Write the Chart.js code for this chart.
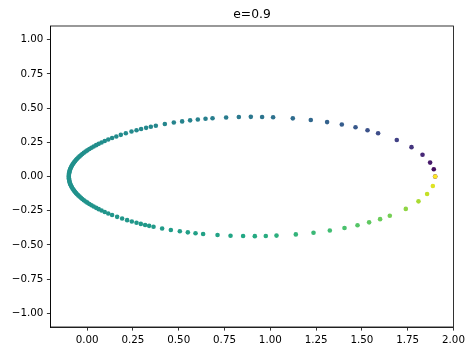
<!DOCTYPE html>
<html><head><meta charset="utf-8">
<script src="https://cdn.jsdelivr.net/npm/chart.js@4/dist/chart.umd.min.js"></script>
<style>html,body{margin:0;padding:0;background:#fff}canvas{display:block}</style>
</head><body>
<canvas id="c" width="474" height="353"></canvas>
<script>
// Orbit samples (x, y) and the time value used for colour (0..1)
const xs = [
1.9000,1.8925,1.8723,1.8308,1.7707,1.6905,1.5884,1.5306,1.4651,1.3903,1.3100,1.2210,1.1228,1.0153,0.9552,0.8936,0.8281,0.7587,0.6845,0.6463,0.6043,0.5622,0.5186,0.4733,0.4241,0.3750,0.3477,0.3220,0.2947,0.2696,0.2423,0.2112,0.1839,
0.1592,0.1362,0.1152,0.0961,0.0789,0.0632,0.0492,0.0357,0.0237,0.0122,0.0012,-0.0085,-0.0178,-0.0265,-0.0342,-0.0415,-0.0483,-0.0548,-0.0603,-0.0655,-0.0703,-0.0748,-0.0789,-0.0826,-0.0860,-0.0890,-0.0917,-0.0940,-0.0959,-0.0974,-0.0987,-0.0995,-0.1000,
-0.1000,-0.0995,-0.0987,-0.0974,-0.0959,-0.0940,-0.0917,-0.0890,-0.0860,-0.0826,-0.0789,-0.0748,-0.0703,-0.0655,-0.0603,-0.0548,-0.0483,-0.0415,-0.0342,-0.0265,-0.0178,-0.0085,0.0012,0.0122,0.0237,0.0357,0.0492,0.0632,0.0789,0.0961,0.1152,0.1362,
0.1637,0.1910,0.2183,0.2440,0.2696,0.2931,0.3166,0.3384,0.3624,0.4094,0.4569,0.5060,0.5497,0.5917,0.6332,0.7118,0.7828,0.8515,0.9154,0.9754,1.0338,1.1392,1.2358,1.3248,1.4050,1.4760,1.5393,1.5993,1.6523,1.7396,1.8089,1.8559,1.8872,1.9000
];
const ys = [
0.0000,0.0531,0.1017,0.1591,0.2144,0.2670,0.3162,0.3383,0.3596,0.3799,0.3976,0.4128,0.4250,0.4330,0.4352,0.4359,0.4348,0.4315,0.4257,0.4217,0.4164,0.4103,0.4029,0.3942,0.3834,0.3710,0.3634,0.3557,0.3470,0.3384,0.3284,0.3160,0.3043,
0.2928,0.2814,0.2702,0.2593,0.2488,0.2387,0.2291,0.2193,0.2100,0.2006,0.1911,0.1822,0.1731,0.1640,0.1555,0.1469,0.1383,0.1296,0.1216,0.1136,0.1054,0.0973,0.0891,0.0809,0.0727,0.0644,0.0561,0.0478,0.0395,0.0312,0.0224,0.0133,0.0042,
-0.0042,-0.0133,-0.0224,-0.0312,-0.0395,-0.0478,-0.0561,-0.0644,-0.0727,-0.0809,-0.0891,-0.0973,-0.1054,-0.1136,-0.1216,-0.1296,-0.1383,-0.1469,-0.1555,-0.1640,-0.1731,-0.1822,-0.1911,-0.2006,-0.2100,-0.2193,-0.2291,-0.2387,-0.2488,-0.2593,-0.2702,-0.2814,
-0.2950,-0.3074,-0.3189,-0.3290,-0.3384,-0.3465,-0.3540,-0.3607,-0.3675,-0.3798,-0.3908,-0.4006,-0.4083,-0.4147,-0.4201,-0.4281,-0.4329,-0.4354,-0.4358,-0.4347,-0.4320,-0.4233,-0.4106,-0.3946,-0.3762,-0.3563,-0.3352,-0.3116,-0.2872,-0.2368,-0.1818,-0.1280,-0.0695,0.0000
];
const ts = [
0.0000,0.0369,0.0709,0.1117,0.1523,0.1927,0.2331,0.2526,0.2726,0.2933,0.3134,0.3337,0.3539,0.3739,0.3842,0.3943,0.4043,0.4144,0.4245,0.4294,0.4346,0.4396,0.4447,0.4497,0.4549,0.4599,0.4625,0.4650,0.4675,0.4698,0.4721,0.4748,0.4770,
0.4790,0.4808,0.4824,0.4838,0.4851,0.4862,0.4872,0.4882,0.4890,0.4898,0.4906,0.4912,0.4919,0.4925,0.4930,0.4936,0.4941,0.4946,0.4950,0.4954,0.4958,0.4962,0.4965,0.4969,0.4972,0.4976,0.4979,0.4982,0.4985,0.4989,0.4992,0.4995,0.4998,
0.5002,0.5005,0.5008,0.5011,0.5015,0.5018,0.5021,0.5024,0.5028,0.5031,0.5035,0.5038,0.5042,0.5046,0.5050,0.5054,0.5059,0.5064,0.5070,0.5075,0.5081,0.5088,0.5094,0.5102,0.5110,0.5118,0.5128,0.5138,0.5149,0.5162,0.5176,0.5192,
0.5214,0.5236,0.5258,0.5280,0.5302,0.5324,0.5345,0.5366,0.5389,0.5436,0.5485,0.5539,0.5589,0.5638,0.5690,0.5792,0.5890,0.5992,0.6092,0.6192,0.6294,0.6494,0.6696,0.6902,0.7106,0.7306,0.7502,0.7709,0.7912,0.8308,0.8718,0.9105,0.9517,1.0000
];
const xTicks = [0, 0.25, 0.5, 0.75, 1.0, 1.25, 1.5, 1.75, 2.0];
const yTicks = [-1.0, -0.75, -0.5, -0.25, 0, 0.25, 0.5, 0.75, 1.0];
const titleText = 'e=0.9';

// viridis colour map stops
const VIR = ['#440154','#482475','#414487','#355f8d','#2a788e','#21918c','#22a884','#44bf70','#7ad151','#bddf26','#fde725'];
function hex(h){return [parseInt(h.slice(1,3),16),parseInt(h.slice(3,5),16),parseInt(h.slice(5,7),16)];}
function viridis(v){
  v=Math.max(0,Math.min(1,v));
  const p=v*(VIR.length-1), i=Math.min(Math.floor(p),VIR.length-2), f=p-i;
  const a=hex(VIR[i]), b=hex(VIR[i+1]);
  return 'rgb('+a.map((c,k)=>Math.round(c+(b[k]-c)*f)).join(',')+')';
}
const tmin=Math.min(...ts), tmax=Math.max(...ts);
const pts = xs.map((x,i)=>({x:x,y:ys[i]}));
const cols = ts.map(t=>viridis((t-tmin)/(tmax-tmin)));
const fmt = v => (Math.abs(v)<1e-9?0:v).toFixed(2).replace('-','\u2212');

const frame = {
  id:'frame',
  afterDatasetsDraw(chart){
    const {ctx, chartArea:a} = chart;
    ctx.save();
    ctx.strokeStyle='#000'; ctx.lineWidth=0.8;
    ctx.strokeRect(a.left, a.top, a.right-a.left, a.bottom-a.top);
    ctx.restore();
  }
};

const font = {family:'"DejaVu Sans", sans-serif', size:10.3};
new Chart(document.getElementById('c'), {
  type:'scatter',
  data:{datasets:[{data:pts, backgroundColor:cols, borderWidth:0, pointRadius:2.3, pointHoverRadius:2.3}]},
  options:{
    responsive:false, animation:false, events:[], devicePixelRatio:1,
    layout:{padding:{left:0,right:20.5,top:0,bottom:0}},
    plugins:{
      legend:{display:false}, tooltip:{enabled:false},
      title:{display:true, text:titleText, fullSize:false, color:'#000',
        font:{family:'"DejaVu Sans", sans-serif', size:12.3, weight:'normal', lineHeight:1.2},
        padding:{top:7, bottom:4.24}}
    },
    scales:{
      x:{type:'linear', min:-0.2, max:2.0,
        afterBuildTicks:s=>{s.ticks=xTicks.map(v=>({value:v}));},
        afterFit:s=>{s.height=26;},
        ticks:{callback:fmt, color:'#000', font:font, padding:3.5, maxRotation:0, autoSkip:false},
        grid:{display:true, drawOnChartArea:false, drawTicks:true, tickLength:3.6, color:'#000', lineWidth:0.8},
        border:{display:true, color:'#000', width:0.8}},
      y:{type:'linear', min:-1.1, max:1.1,
        afterBuildTicks:s=>{s.ticks=yTicks.map(v=>({value:v}));},
        afterFit:s=>{s.width=50.5;},
        ticks:{callback:fmt, color:'#000', font:font, padding:3.5, autoSkip:false},
        grid:{display:true, drawOnChartArea:false, drawTicks:true, tickLength:3.6, color:'#000', lineWidth:0.8},
        border:{display:true, color:'#000', width:0.8}}
    }
  },
  plugins:[frame]
});
</script>
</body></html>
